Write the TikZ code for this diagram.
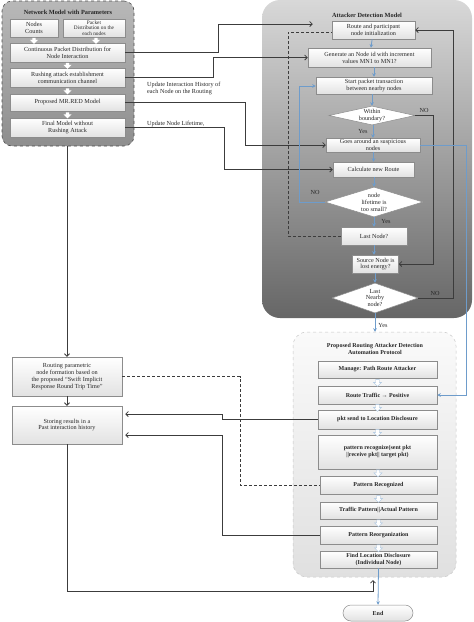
\documentclass[tikz,border=0pt]{standalone}
\usepackage{fontspec}
\setmainfont{Liberation Serif}
\usetikzlibrary{shapes.geometric,shapes.arrows,arrows.meta,calc}
\definecolor{bordergray}{HTML}{8C8C8C}
\definecolor{linegray}{HTML}{3C3C3C}
\definecolor{flowblue}{HTML}{6E9CCB}
\definecolor{boxbot}{HTML}{E2E2E2}
\definecolor{aptop}{HTML}{D8D8D8}
\definecolor{apbot}{HTML}{666666}
\definecolor{nptop}{HTML}{B8B8B8}
\definecolor{npbot}{HTML}{8E8E8E}
\definecolor{pptop}{HTML}{FAFAFA}
\definecolor{ppbot}{HTML}{E0E0E0}
\begin{document}
\begin{tikzpicture}[x=1pt,y=-1pt,
  txt/.style={font=\fontsize{6.2}{6.9}\selectfont, text=black!85},
  abox/.style={txt, rectangle, draw=bordergray, line width=0.5pt, top color=white, bottom color=boxbot, align=center, inner sep=1pt},
  pbox/.style={abox, font=\bfseries\fontsize{6}{7}\selectfont},
  adia/.style={txt, diamond, draw=bordergray, line width=0.5pt, fill=white, align=center, inner sep=0pt},
  conn/.style={draw=linegray, line width=0.8pt, -{Straight Barb[length=2.5pt,width=5pt]}},
  dline/.style={draw=linegray, line width=0.8pt, dash pattern=on 3pt off 2pt},
  bconn/.style={draw=flowblue, line width=0.8pt, -{Stealth[length=3.5pt,width=3.5pt]}},
  barr/.style={single arrow, shape border rotate=270, minimum height=7pt, minimum width=8pt, single arrow head extend=2pt, inner sep=1.3pt, fill=white, draw=flowblue!60, line width=0.45pt},
  warr/.style={single arrow, shape border rotate=270, minimum height=6pt, minimum width=8pt, single arrow head extend=2pt, inner sep=1.3pt, fill=white, draw=none},
  lbl/.style={txt, inner sep=0pt},
  ttl/.style={txt, font=\bfseries\fontsize{6.3}{7.2}\selectfont, align=center, inner sep=0pt}
]
\useasboundingbox (0,0) rectangle (474,622);

% ---------- panels ----------
\node[draw=black!70, dashed, line width=0.6pt, rounded corners=10pt, top color=nptop, bottom color=npbot, minimum width=132pt, minimum height=145pt, inner sep=0pt] (np) at (68,73.5) {};
\node[rounded corners=18pt, top color=aptop, bottom color=apbot, minimum width=210pt, minimum height=318pt, inner sep=0pt] (ap) at (367,159) {};
\node[draw=gray!45, dashed, line width=0.5pt, rounded corners=14pt, top color=pptop, bottom color=ppbot, minimum width=163pt, minimum height=245pt, inner sep=0pt] (pp) at (374.5,454.5) {};

% ---------- titles ----------
\node[ttl] (npt) at (68,12) {Network Model with Parameters};
\node[ttl] (apt) at (367,15) {Attacker Detection Model};
\node[ttl, font=\bfseries\fontsize{6}{7}\selectfont] (ppt) at (375,348.5) {Proposed Routing Attacker Detection\\Automation Protocol};

% ---------- network model boxes ----------
\node[abox, minimum width=48pt, minimum height=18pt] (n1) at (34,28) {Nodes\\Counts};
\node[abox, minimum width=62pt, minimum height=18pt, font=\fontsize{5.3}{5.6}\selectfont] (n2) at (94,28) {Packet\\Distribution on the\\each nodes};
\node[abox, minimum width=115pt, minimum height=19pt] (n3) at (67.5,52.5) {Continuous Packet Distribution for\\Node Interaction};
\node[abox, minimum width=115pt, minimum height=19pt] (n4) at (67.5,77.5) {Rushing attack establishment\\communication channel};
\node[abox, minimum width=115pt, minimum height=17pt] (n5) at (67.5,102.5) {Proposed MR.RED Model};
\node[abox, minimum width=115pt, minimum height=19pt] (n6) at (67.5,127.5) {Final Model without\\Rushing Attack};

\node[warr] (w1) at (34,40) {};
\node[warr] (w2) at (96,40) {};
\node[warr] (w3) at (67.5,65) {};
\node[warr] (w4) at (67.5,90.5) {};
\node[warr] (w5) at (67.5,114.5) {};

% ---------- attacker detection boxes ----------
\node[abox, minimum width=83pt, minimum height=18pt] (r1) at (373.5,30) {Route and participant\\node initialization};
\node[abox, minimum width=123pt, minimum height=19pt] (r2) at (369.5,57.5) {Generate an Node id with increment\\values MN1 to MN1?};
\node[abox, minimum width=116pt, minimum height=17pt] (r3) at (374,85.5) {Start packet transaction\\between nearby nodes};
\node[adia, aspect=4.4, minimum width=86pt, minimum height=19pt] (d1) at (372,115.5) {Within\\boundary?};
\node[abox, minimum width=94pt, minimum height=14pt] (r4) at (373,145) {Goes around an suspicious\\nodes};
\node[abox, minimum width=81pt, minimum height=15pt] (r5) at (373.5,169.5) {Calculate new Route};
\node[adia, aspect=3.3, minimum width=98pt, minimum height=30pt] (d2) at (374,202) {node\\lifetime is\\too small?};
\node[abox, minimum width=66pt, minimum height=18pt] (r6) at (374,236) {Last Node?};
\node[abox, minimum width=46pt, minimum height=18pt] (r7) at (375.5,264) {Source Node is\\lost energy?};
\node[adia, aspect=3.2, minimum width=86pt, minimum height=30pt] (d3) at (375,298) {Last\\Nearby\\node?};

% ---------- left lower boxes ----------
\node[abox, minimum width=110pt, minimum height=39pt] (s1) at (67,376.5) {Routing parametric\\node formation based on\\the proposed ``Swift Implicit\\Response Round Trip Time''};
\node[abox, minimum width=110pt, minimum height=38pt] (s2) at (67,425) {Storing results in a\\Past interaction history};

% ---------- protocol boxes ----------
\node[pbox, minimum width=119pt, minimum height=17pt] (p1) at (377.5,369.5) {Manage: Path Route Attacker};
\node[pbox, minimum width=119pt, minimum height=18pt] (p2) at (377.5,395) {Route Traffic → Positive};
\node[pbox, minimum width=119pt, minimum height=19pt] (p3) at (377.5,419.5) {pkt send to Location Disclosure};
\node[pbox, minimum width=119pt, minimum height=34pt] (p4) at (377.5,452) {pattern recognize(sent pkt\\||receive pkt|| target pkt)};
\node[pbox, minimum width=117pt, minimum height=18pt] (p5) at (378.5,485) {Pattern Recognized};
\node[pbox, minimum width=117pt, minimum height=17pt] (p6) at (378.5,510.5) {Traffic Pattern||Actual Pattern};
\node[pbox, minimum width=117pt, minimum height=18pt] (p7) at (378.5,535) {Pattern Reorganization};
\node[pbox, minimum width=117pt, minimum height=17pt] (p8) at (378.5,559.5) {Find Location Disclosure\\(Individual Node)};
\node[abox, rounded corners=8pt, minimum width=70pt, minimum height=16pt, font=\bfseries\fontsize{6}{7}\selectfont] (end) at (378,613) {End};

\node[barr] (b1) at ($(p1.south)!0.5!(p2.north)$) {};
\node[barr] (b2) at ($(p2.south)!0.5!(p3.north)$) {};
\node[barr] (b3) at ($(p3.south)!0.5!(p4.north)$) {};
\node[barr] (b4) at ($(p4.south)!0.5!(p5.north)$) {};
\node[barr] (b5) at ($(p5.south)!0.5!(p6.north)$) {};
\node[barr] (b6) at ($(p6.south)!0.5!(p7.north)$) {};
\node[barr] (b7) at ($(p7.south)!0.5!(p8.north)$) {};

% ---------- connectors from network model ----------
\draw[conn, shorten >=19pt] (n3.east) -| (218,24) -- ($(r1.west)+(0,-6)$);
\draw[conn] (n4.east) -| (213,57.5) -- (r2.west);
\draw[conn] (n5.east) -| (245,145) -- (r4.west);
\draw[conn] (n6.east) -| (224,169.5) -- (r5.west);
\node[lbl, anchor=base west, align=left] (l1) at (147,93) {Update Interaction History of\\each Node on the Routing};
\node[lbl, anchor=base west] (l2) at (147,125) {Update Node Lifetime,};
\draw[conn] (np.south -| s1.north) -- (s1.north);
\draw[conn] (s1.south) -- (s2.north);

% ---------- attacker internal flow ----------
\draw[bconn] (r1) -- (r2);
\draw[bconn] (r2.south -| r3.north) -- (r3.north);
\draw[bconn] (r3.south -| d1.north) -- (d1.north);
\draw[bconn] (d1.south -| r4.north) -- (r4.north);
\draw[bconn] (r4.south -| r5.north) -- (r5.north);
\draw[bconn] (r5.south -| d2.north) -- (d2.north);
\draw[bconn] (d2.south) -- (d2.south |- r6.north);
\draw[bconn] (r6.south) -- (r6.south |- r7.north);
\draw[bconn] (r7.south -| d3.north) -- (d3.north);
\draw[bconn] (d3.south) -- (d3.south |- pp.north);
\node[lbl] (y1) at (363,131) {Yes};
\node[lbl] (y2) at (386,221) {Yes};
\node[lbl] (y3) at (383,325) {Yes};

\draw[dline] (r6.west) -| (288,32) -- ($(r1.west)+(0,2)$);
\draw[conn] (d1.east) -| (433,264) -- (r7.east);
\node[lbl] (no1) at (424,110) {NO};
\draw[conn] (d3.east) -| (453,30) -- (r1.east);
\node[lbl] (no3) at (435,293) {NO};
\draw[bconn] (d2.west) -| (299,86) -- (r3.west |- 0,86);
\node[lbl] (no2) at (315,192) {NO};
\draw[bconn] (r4.east) -| (466,395) -- (p2.east);

% ---------- protocol connectors ----------
\draw[bconn] (p8.south) -- (end.north);
\draw[dline] (s1.east) -| (240,485) -- (p5.west);
\draw[conn, shorten >=3pt] (p3.west) -| (222,414) -- (s2.east |- 0,414);
\draw[conn, shorten >=3pt] (p7.west) -| (222,435) -- (s2.east |- 0,435);
\draw[conn] (s2.south) |- (373,591) -- (373,580);

\end{tikzpicture}
\end{document}
